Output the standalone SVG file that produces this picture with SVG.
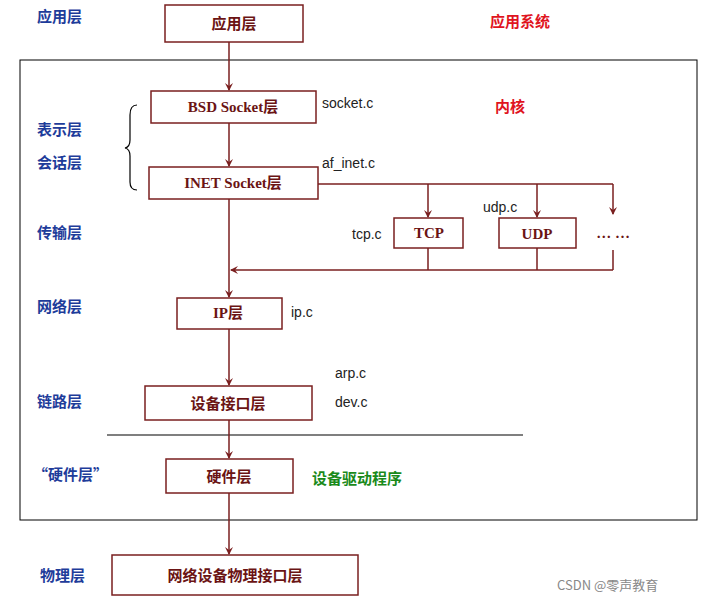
<svg xmlns="http://www.w3.org/2000/svg" width="709" height="603" viewBox="0 0 709 603">
<defs>
<marker id="a" markerWidth="8" markerHeight="8" refX="7" refY="4" orient="auto" markerUnits="userSpaceOnUse"><path d="M0,0 L8,4 L0,8 L3,4 Z" fill="#7a1f1f"/></marker>
<style>
.b{fill:#fff;stroke:#7a1f1f;stroke-width:1.5}
.t{font-family:"Liberation Serif","Noto Sans CJK SC",serif;font-weight:bold;font-size:15px;fill:#6b1414;text-anchor:middle}
.l{font-family:"Noto Sans CJK SC",sans-serif;font-weight:bold;font-size:15px;fill:#1e3c9a}
.f{font-family:"Liberation Sans",sans-serif;font-size:14px;fill:#222}
.c{fill:none;stroke:#7a1f1f;stroke-width:1.5}
</style>
</defs>
<rect width="709" height="603" fill="#fff"/>
<rect x="20" y="60" width="677" height="460" fill="none" stroke="#000" stroke-width="1"/>
<line x1="107" y1="435" x2="523" y2="435" stroke="#000" stroke-width="1.2"/>
<path d="M137,105 Q130,105 130,115 L130,140 Q130,147 125,148 Q130,149 130,156 L130,182 Q130,190 137,190" fill="none" stroke="#000" stroke-width="1.2"/>
<g id="connectors">
<line class="c" x1="229" y1="42" x2="229" y2="90" marker-end="url(#a)"/>
<line class="c" x1="229" y1="123" x2="229" y2="166" marker-end="url(#a)"/>
<line class="c" x1="229" y1="199" x2="229" y2="297" marker-end="url(#a)"/>
<path class="c" d="M318,184 H613"/>
<line class="c" x1="428" y1="184" x2="428" y2="217" marker-end="url(#a)"/>
<line class="c" x1="537" y1="184" x2="537" y2="217" marker-end="url(#a)"/>
<line class="c" x1="613" y1="184" x2="613" y2="214" marker-end="url(#a)"/>
<path class="c" d="M428,248 V270 M537,248 V270 M613,250 V270"/>
<line class="c" x1="613" y1="270" x2="231" y2="270" marker-end="url(#a)"/>
<line class="c" x1="229" y1="329" x2="229" y2="385" marker-end="url(#a)"/>
<line class="c" x1="229" y1="420" x2="229" y2="458" marker-end="url(#a)"/>
<line class="c" x1="229" y1="493" x2="229" y2="554" marker-end="url(#a)"/>
</g>
<g id="app"><rect class="b" x="165" y="5" width="138" height="37"/><text class="t" x="234" y="29">应用层</text></g>
<g id="bsd"><rect class="b" x="151" y="91" width="165" height="32"/><text class="t" x="233" y="112">BSD Socket层</text></g>
<g id="inet"><rect class="b" x="149" y="167" width="169" height="32"/><text class="t" x="233" y="188">INET Socket层</text></g>
<g id="tcp"><rect class="b" x="394" y="218" width="69" height="30"/><text class="t" x="429" y="238">TCP</text></g>
<g id="udp"><rect class="b" x="499" y="218" width="77" height="30"/><text class="t" x="537" y="239">UDP</text></g>
<g id="more"><text class="t" x="613" y="238">… …</text></g>
<g id="ip"><rect class="b" x="177" y="298" width="105" height="31"/><text class="t" x="228" y="318">IP层</text></g>
<g id="dev"><rect class="b" x="145" y="386" width="167" height="34"/><text class="t" x="228" y="409">设备接口层</text></g>
<g id="hw"><rect class="b" x="166" y="459" width="127" height="34"/><text class="t" x="229" y="482">硬件层</text></g>
<g id="phy"><rect class="b" x="112" y="555" width="246" height="40"/><text class="t" x="235" y="581">网络设备物理接口层</text></g>
<g id="labels">
<text class="l" x="37" y="22">应用层</text>
<text class="l" x="37" y="135">表示层</text>
<text class="l" x="37" y="168">会话层</text>
<text class="l" x="37" y="238">传输层</text>
<text class="l" x="37" y="312">网络层</text>
<text class="l" x="37" y="407">链路层</text>
<text class="l" x="33" y="480">“硬件层”</text>
<text class="l" x="40" y="581">物理层</text>
<text class="f" x="322" y="108">socket.c</text>
<text class="f" x="322" y="168">af_inet.c</text>
<text class="f" x="483" y="212">udp.c</text>
<text class="f" x="352" y="239">tcp.c</text>
<text class="f" x="291" y="317">ip.c</text>
<text class="f" x="335" y="378">arp.c</text>
<text class="f" x="335" y="407">dev.c</text>
<text class="l" x="490" y="27" style="fill:#e0141e">应用系统</text>
<text class="l" x="495" y="112" style="fill:#e0141e">内核</text>
<text class="l" x="312" y="484" style="fill:#1a8a1a">设备驱动程序</text>
<text x="557" y="590" style="font-family:'Noto Sans CJK SC',sans-serif;font-size:13px;fill:#888">CSDN @零声教育</text>
</g>
</svg>
